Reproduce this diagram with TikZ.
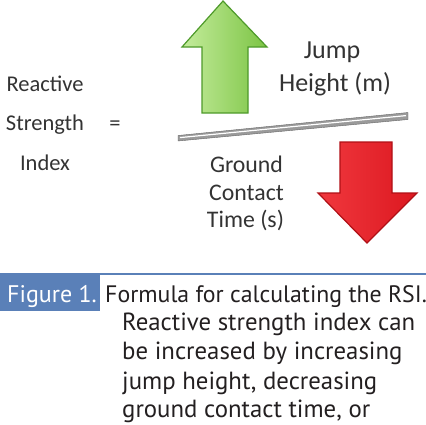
\documentclass[tikz,border=0pt]{standalone}
\usepackage{fontspec}
\usepackage{xcolor}
\usepackage{tikz}
\newfontfamily\diafont{Carlito}
\newfontfamily\capfont{PT Sans}
\definecolor{RSIGreenL}{HTML}{C4EC9C}
\definecolor{RSIGreenD}{HTML}{7CC444}
\definecolor{RSIGreenB}{HTML}{4E9A2A}
\definecolor{RSIRedL}{HTML}{F0383E}
\definecolor{RSIRedD}{HTML}{DC1820}
\definecolor{RSIRedB}{HTML}{B01016}
\definecolor{RSIBar}{HTML}{9A9A9A}
\definecolor{RSIBlue}{HTML}{5A80B8}
\definecolor{RSIText}{HTML}{231F20}
\definecolor{RSIDia}{HTML}{333333}
\tikzset{
  dia/.style={font=\diafont\fontsize{22.5}{27}\selectfont, text=RSIDia, inner sep=0pt, anchor=base},
  diabig/.style={dia, font=\diafont\fontsize{26}{30}\selectfont},
  diamid/.style={dia, font=\diafont\fontsize{23.8}{28}\selectfont},
  captext/.style={font=\capfont\fontsize{24.8}{29}\selectfont, text=RSIText, inner sep=0pt, anchor=base west}
}
\begin{document}
\begin{tikzpicture}[x=1pt,y=-1pt]
\path[use as bounding box] (0,0) rectangle (426,424);
% left hand side
\node[dia] (reactive) at (45,91) {Reactive};
\node[dia] (strength) at (45,130) {Strength};
\node[dia] (index) at (45,170) {Index};
\node[dia] (equals) at (115,130) {=};
% green arrow up
\shade[left color=RSIGreenL, right color=RSIGreenD, draw=RSIGreenB, line width=1.2pt]
  (223,1) -- (267,47) -- (248,47) -- (248,113) -- (202,113) -- (202,47) -- (182,47) -- cycle;
\node[diabig] (jump) at (332,58) {Jump};
\node[diabig] (height) at (335,91) {Height (m)};
% fraction bar
\fill[RSIBar, draw=gray!80!black, line width=0.4pt] (178,135.5) -- (408,112.5) -- (408,119.5) -- (178,141) -- cycle;
\draw[white, line width=1.2pt] (180,137.6) -- (406,115.6);
% red arrow down
\shade[left color=RSIRedL, right color=RSIRedD, draw=RSIRedB, line width=1.2pt]
  (340,142) -- (392,142) -- (392,193) -- (417,193) -- (367,243) -- (318,193) -- (340,193) -- cycle;
\node[diamid] (ground) at (246.5,172) {Ground};
\node[diamid] (contact) at (246.5,200) {Contact};
\node[diamid] (time) at (245.5,227) {Time (s)};
% caption
\fill[RSIBlue] (0,273) rectangle (100,311);
\draw[RSIBlue, line width=1.5pt] (100,273.75) -- (426,273.75);
\node[captext,text=white,font=\capfont\fontsize{24}{29}\selectfont] (figlabel) at (7,302) {Figure 1.};
\node[captext,font=\capfont\fontsize{23.8}{29}\selectfont] (cap1) at (105,302) {Formula for calculating the RSI.};
\node[captext] (cap2) at (122,330) {Reactive strength index can};
\node[captext] (cap3) at (122,359) {be increased by increasing};
\node[captext] (cap4) at (122,389) {jump height, decreasing};
\node[captext] (cap5) at (122,417) {ground contact time, or};
\end{tikzpicture}
\end{document}
